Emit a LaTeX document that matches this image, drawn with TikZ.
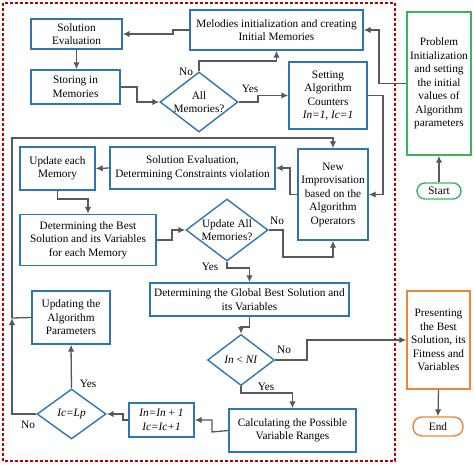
\documentclass[tikz,border=0pt]{standalone}
\usepackage{fontspec}
\setmainfont{Liberation Serif}
\usetikzlibrary{shapes.geometric,arrows.meta}
\definecolor{bluebox}{HTML}{2E75B6}
\definecolor{greenbox}{HTML}{3CB55A}
\definecolor{orangebox}{HTML}{E8873A}
\definecolor{redborder}{HTML}{C00000}
\definecolor{linegray}{HTML}{595959}
\begin{document}
\begin{tikzpicture}[x=1pt,y=-1pt,
  font=\fontsize{11.3}{13.5}\selectfont,
  box/.style={draw=bluebox, line width=1.4pt, align=center, inner sep=1pt},
  gbox/.style={draw=greenbox, line width=1.4pt, align=center, inner sep=1pt},
  obox/.style={draw=orangebox, line width=1.4pt, align=center, inner sep=1pt},
  dia/.style={draw=bluebox, line width=1.4pt, diamond, inner sep=0pt},
  term/.style={rounded corners=8pt, line width=1.4pt, align=center, inner sep=1pt},
  ln/.style={draw=linegray, line width=1.3pt},
  arr/.style={ln, -{Latex[length=7pt,width=6.5pt]}},
  lbl/.style={inner sep=1pt}
]
\useasboundingbox (0,0) rectangle (474,466);
\draw[redborder, line width=2pt, dash pattern=on 3pt off 2pt] (3,3) rectangle (395,461);

% nodes
\node[box, minimum width=173pt, minimum height=40pt] (mel) at (276.5,30) {Melodies initialization and creating\\Initial Memories};
\node[box, minimum width=91pt, minimum height=30pt] (se) at (76.5,34) {Solution\\Evaluation};
\node[box, minimum width=89pt, minimum height=34pt] (sto) at (75.5,87) {Storing in\\Memories};
\node[dia, minimum width=78pt, minimum height=60pt, label={[align=center]center:All\\Memories?}] (allm) at (199,102) {};
\node[box, minimum width=78pt, minimum height=67pt] (set) at (328,95.5) {Setting\\Algorithm\\Counters\\\textit{In=1}, \textit{Ic=1}};
\node[gbox, minimum width=64pt, minimum height=143pt] (prob) at (439,83.5) {Problem\\Initialization\\and setting\\the initial\\values of\\Algorithm\\parameters};
\node[term, draw=greenbox, minimum width=44pt, minimum height=16pt] (start) at (439,191) {Start};
\node[box, minimum width=70pt, minimum height=91pt] (newi) at (333,194.5) {New\\Improvisation\\based on the\\Algorithm\\Operators};
\node[box, minimum width=165pt, minimum height=42pt] (sev) at (192.5,168) {Solution Evaluation,\\Determining Constraints violation};
\node[box, minimum width=75pt, minimum height=43pt] (upd) at (57.5,168.5) {Update each\\Memory};
\node[box, minimum width=136pt, minimum height=51pt] (det) at (88,240) {Determining the Best\\Solution and its Variables\\for each Memory};
\node[dia, minimum width=82pt, minimum height=62pt, label={[align=center]center:Update All\\Memories?}] (uam) at (227,230) {};
\node[box, minimum width=199pt, minimum height=33pt] (glob) at (249.5,299.5) {Determining the Global Best Solution and\\its Variables};
\node[dia, minimum width=67pt, minimum height=51pt, label={center:\textit{In} < \textit{NI}}] (innl) at (241,360) {};
\node[obox, minimum width=63pt, minimum height=98pt] (pres) at (438.5,340) {Presenting\\the Best\\Solution, its\\Fitness and\\Variables};
\node[term, draw=orangebox, minimum width=50pt, minimum height=19pt, rounded corners=9pt] (end) at (438,426.5) {End};
\node[box, minimum width=127pt, minimum height=43pt] (calc) at (292.5,430.5) {Calculating the Possible\\Variable Ranges};
\node[box, minimum width=65pt, minimum height=34pt] (inc) at (161.5,420) {\textit{In=In} + \textit{1}\\\textit{Ic=Ic+1}};
\node[dia, minimum width=69pt, minimum height=50pt, label={center:\textit{Ic=Lp}}] (iclp) at (71.5,414) {};
\node[box, minimum width=78pt, minimum height=53pt] (upa) at (71,317.5) {Updating the\\Algorithm\\Parameters};

\coordinate (loopA) at (12,318);
\coordinate (loopB) at (12,138);

% connectors
\draw[arr] (prob.west) -- (379,83.5) |- (mel.east);
\draw[arr] (mel.west) -- (173,30) |- (se.east);
\draw[arr] (se.south) -- (se.south |- sto.north);
\draw[arr] (sto.east) -- (137,87) |- (allm.west);
\draw[arr] (allm.north) -- (199,61) -| (mel.south);
\node[lbl] (lno1) at (186,72) {No};
\draw[arr] (allm.east) -- (258,102) |- (set.west);
\node[lbl] (lyes1) at (250,89) {Yes};
\draw[arr] (set.east) -- (383,95.5) |- (newi.east);
\draw[arr] (start.north) -- (prob.south);
\draw[arr] (newi.west) -- (290,194.5) |- (sev.east);
\draw[arr] (sev.west) -- (upd.east);
\draw[arr] (upd.south) -- (57.5,199) -| (det.north);
\draw[arr] (det.east) -- (172,240) |- (uam.west);
\draw[arr] (uam.east) -- (283,230) |- (333,257) -- (newi.south);
\node[lbl] (lno2) at (277,221) {No};
\draw[arr] (uam.south) -- (227,268) -| (glob.north);
\node[lbl] (lyes2) at (210,267) {Yes};
\draw[arr] (glob.south) -- (249.5,327) -| (innl.north);
\draw[arr] (innl.east) -- (307,360) |- (pres.west);
\node[lbl] (lno3) at (284,350) {No};
\draw[arr] (pres.south) -- (end.north);
\draw[arr] (innl.south) -- (241,393) -| (calc.north);
\node[lbl] (lyes3) at (266,387) {Yes};
\draw[arr] (calc.west) -- (212,432) |- (inc.east);
\draw[arr] (inc.west) -- (123,420) |- (iclp.east);
\draw[arr] (iclp.north) -- (upa.south);
\node[lbl] (lyes4) at (88,384) {Yes};
\draw[arr] (iclp.west) -- (12,414) -- (loopA);
\node[lbl] (lno4) at (28,425) {No};
\draw[ln] (upa.west) -- (loopA);
\draw[arr] (loopA) -- (loopB) -| (newi.north);
\end{tikzpicture}
\end{document}
